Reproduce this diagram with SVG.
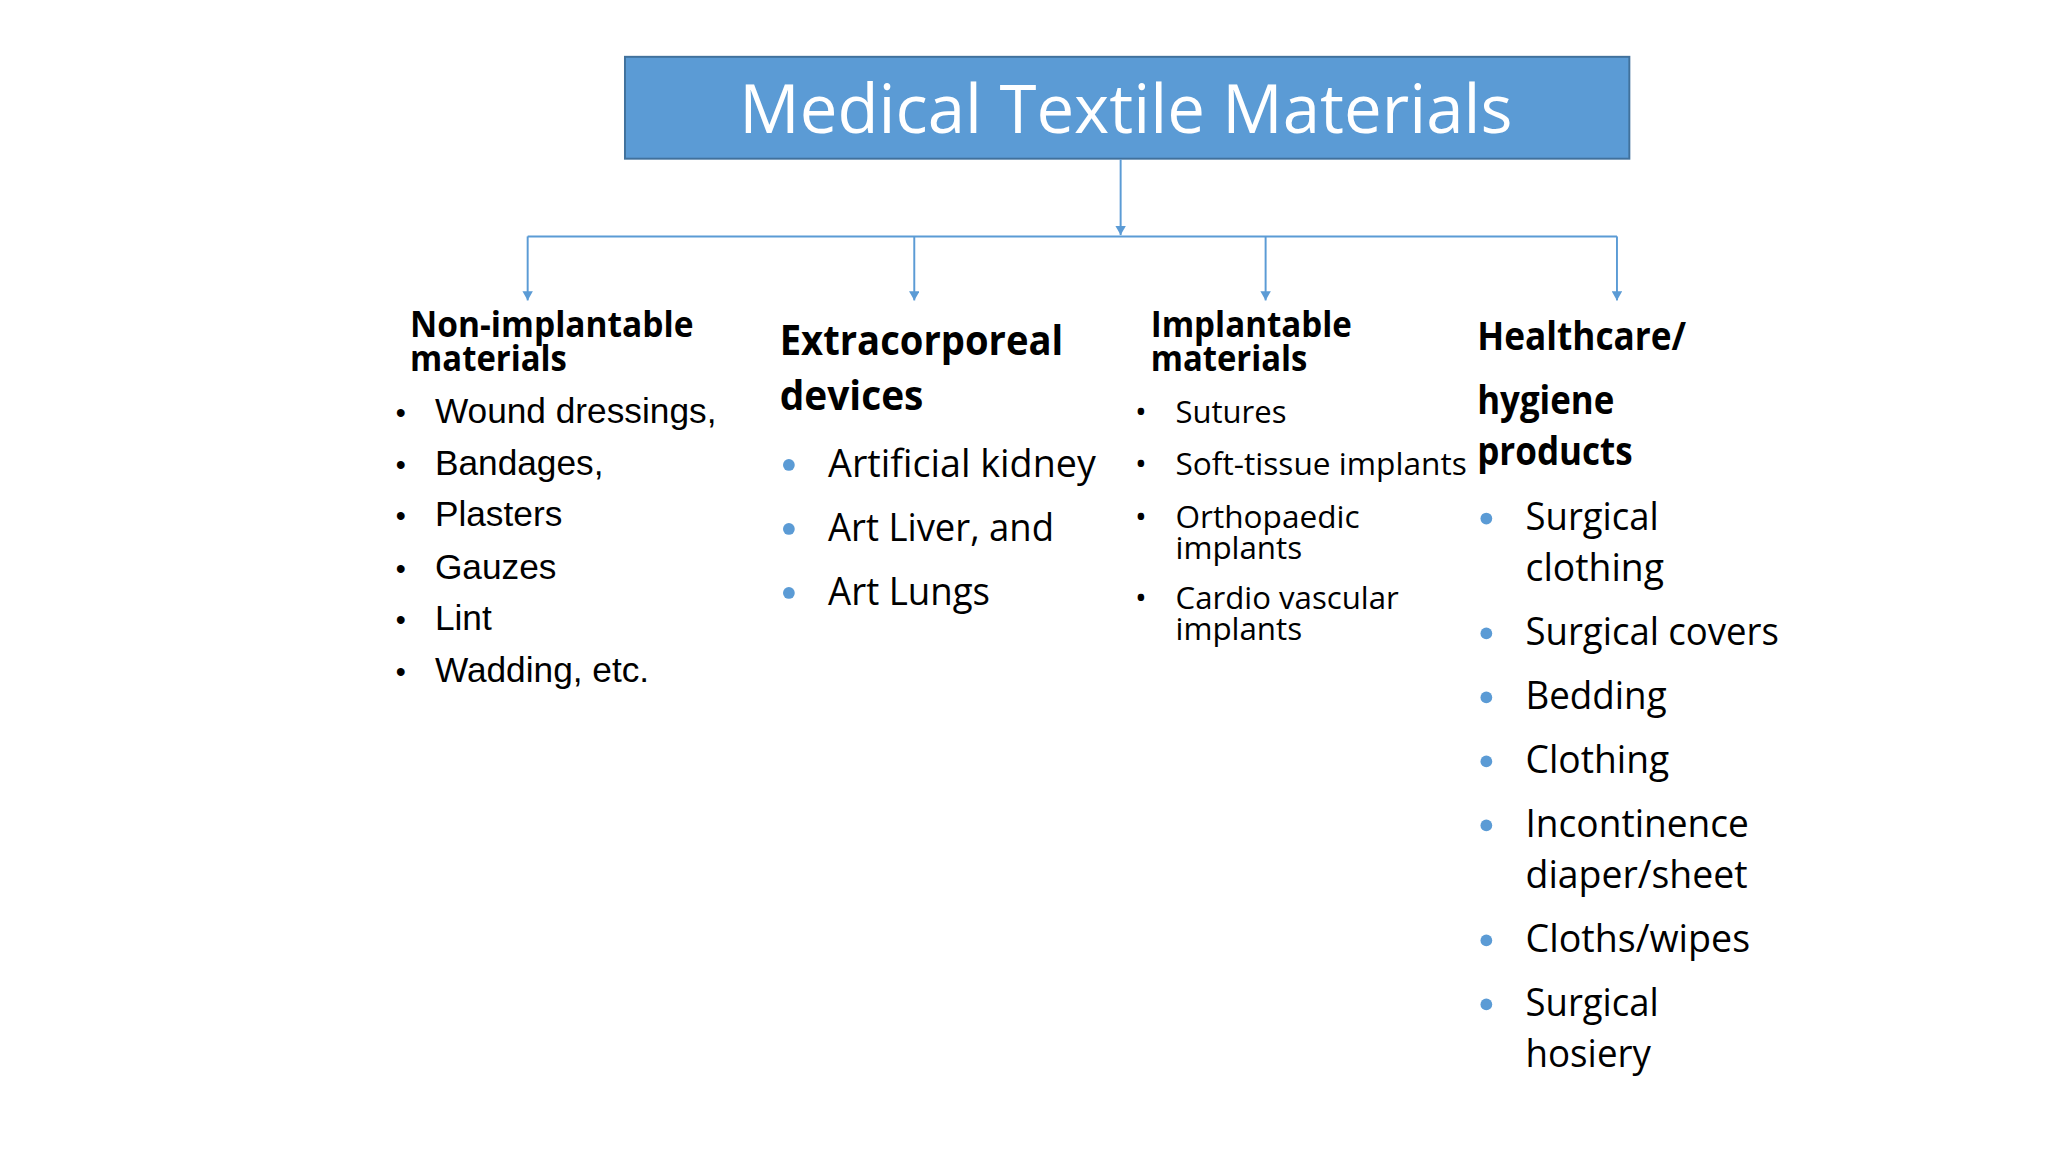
<svg xmlns="http://www.w3.org/2000/svg" width="2048" height="1152" viewBox="0 0 2048 1152">
<style>
.t{font-family:"Open Sans","Noto Sans",sans-serif;fill:#000}
.h{font-weight:bold}
.a{font-family:"Liberation Sans",Arial,sans-serif;font-size:27px}
.c{stroke:#5b9bd5;stroke-width:1.5;fill:none}
.bb{fill:#5b9bd5}
</style>
<defs><marker id="ar" markerWidth="8" markerHeight="8" refX="7" refY="4" orient="auto" markerUnits="userSpaceOnUse"><path d="M0,0 L7,4 L0,8 z" fill="#5b9bd5"/></marker></defs>
<rect width="2048" height="1152" fill="#fff"/>
<g transform="scale(1.3061)">
<g id="title"><rect x="478.5" y="43.5" width="769" height="78" fill="#5b9bd5" stroke="#41719c" stroke-width="1.5"/>
<text x="862" y="102" text-anchor="middle" class="t" style="fill:#fff;font-size:52px" textLength="592" lengthAdjust="spacingAndGlyphs">Medical Textile Materials</text></g>
<g id="connectors" class="c">
<path d="M858,122 V180" marker-end="url(#ar)"/>
<path d="M404,181 H1238"/>
<path d="M404,181 V230" marker-end="url(#ar)"/>
<path d="M700,181 V230" marker-end="url(#ar)"/>
<path d="M969,181 V230" marker-end="url(#ar)"/>
<path d="M1238,181 V230" marker-end="url(#ar)"/>
</g>
<g id="col1">
<text class="t h" font-size="27" x="314" y="258" textLength="217" lengthAdjust="spacingAndGlyphs">Non-implantable</text>
<text class="t h" font-size="27" x="314" y="284" textLength="120" lengthAdjust="spacingAndGlyphs">materials</text>
<g class="a"><text x="303" y="324" font-size="22">•</text><text x="333" y="324">Wound dressings,</text>
<text x="303" y="364" font-size="22">•</text><text x="333" y="364">Bandages,</text>
<text x="303" y="403" font-size="22">•</text><text x="333" y="403">Plasters</text>
<text x="303" y="443" font-size="22">•</text><text x="333" y="443">Gauzes</text>
<text x="303" y="482" font-size="22">•</text><text x="333" y="482">Lint</text>
<text x="303" y="522" font-size="22">•</text><text x="333" y="522">Wadding, etc.</text></g>
</g>
<g id="col2">
<text class="t h" font-size="32" x="597" y="272" textLength="217" lengthAdjust="spacingAndGlyphs">Extracorporeal</text>
<text class="t h" font-size="32" x="597" y="314" textLength="110" lengthAdjust="spacingAndGlyphs">devices</text>
<circle class="bb" cx="604" cy="356" r="4.5"/><text class="t" font-size="29" x="634" y="365" textLength="205" lengthAdjust="spacingAndGlyphs">Artificial kidney</text>
<circle class="bb" cx="604" cy="405" r="4.5"/><text class="t" font-size="29" x="634" y="414" textLength="173" lengthAdjust="spacingAndGlyphs">Art Liver, and</text>
<circle class="bb" cx="604" cy="454" r="4.5"/><text class="t" font-size="29" x="634" y="463" textLength="124" lengthAdjust="spacingAndGlyphs">Art Lungs</text>
</g>
<g id="col3">
<text class="t h" font-size="27" x="881" y="258" textLength="154" lengthAdjust="spacingAndGlyphs">Implantable</text>
<text class="t h" font-size="27" x="881" y="284" textLength="120" lengthAdjust="spacingAndGlyphs">materials</text>
<g class="t" font-size="24">
<text x="869" y="324">•</text><text x="900" y="324" textLength="85" lengthAdjust="spacingAndGlyphs">Sutures</text>
<text x="869" y="364">•</text><text x="900" y="364" textLength="223" lengthAdjust="spacingAndGlyphs">Soft-tissue implants</text>
<text x="869" y="404">•</text><text x="900" y="404" textLength="141" lengthAdjust="spacingAndGlyphs">Orthopaedic</text>
<text x="900" y="428" textLength="97" lengthAdjust="spacingAndGlyphs">implants</text>
<text x="869" y="466">•</text><text x="900" y="466" textLength="171" lengthAdjust="spacingAndGlyphs">Cardio vascular</text>
<text x="900" y="490" textLength="97" lengthAdjust="spacingAndGlyphs">implants</text></g>
</g>
<g id="col4">
<text class="t h" font-size="30" x="1131" y="268" textLength="160" lengthAdjust="spacingAndGlyphs">Healthcare/</text>
<text class="t h" font-size="30" x="1131" y="317" textLength="105" lengthAdjust="spacingAndGlyphs">hygiene</text>
<text class="t h" font-size="30" x="1131" y="356" textLength="119" lengthAdjust="spacingAndGlyphs">products</text>
<g class="t" font-size="29">
<circle class="bb" cx="1138" cy="397" r="4.5"/><text x="1168" y="406" textLength="102" lengthAdjust="spacingAndGlyphs">Surgical</text>
<text x="1168" y="445" textLength="106" lengthAdjust="spacingAndGlyphs">clothing</text>
<circle class="bb" cx="1138" cy="485" r="4.5"/><text x="1168" y="494" textLength="194" lengthAdjust="spacingAndGlyphs">Surgical covers</text>
<circle class="bb" cx="1138" cy="534" r="4.5"/><text x="1168" y="543" textLength="108" lengthAdjust="spacingAndGlyphs">Bedding</text>
<circle class="bb" cx="1138" cy="583" r="4.5"/><text x="1168" y="592" textLength="110" lengthAdjust="spacingAndGlyphs">Clothing</text>
<circle class="bb" cx="1138" cy="632" r="4.5"/><text x="1168" y="641" textLength="171" lengthAdjust="spacingAndGlyphs">Incontinence</text>
<text x="1168" y="680" textLength="170" lengthAdjust="spacingAndGlyphs">diaper/sheet</text>
<circle class="bb" cx="1138" cy="720" r="4.5"/><text x="1168" y="729" textLength="172" lengthAdjust="spacingAndGlyphs">Cloths/wipes</text>
<circle class="bb" cx="1138" cy="769" r="4.5"/><text x="1168" y="778" textLength="102" lengthAdjust="spacingAndGlyphs">Surgical</text>
<text x="1168" y="817" textLength="96" lengthAdjust="spacingAndGlyphs">hosiery</text></g>
</g>
</g>
</svg>
